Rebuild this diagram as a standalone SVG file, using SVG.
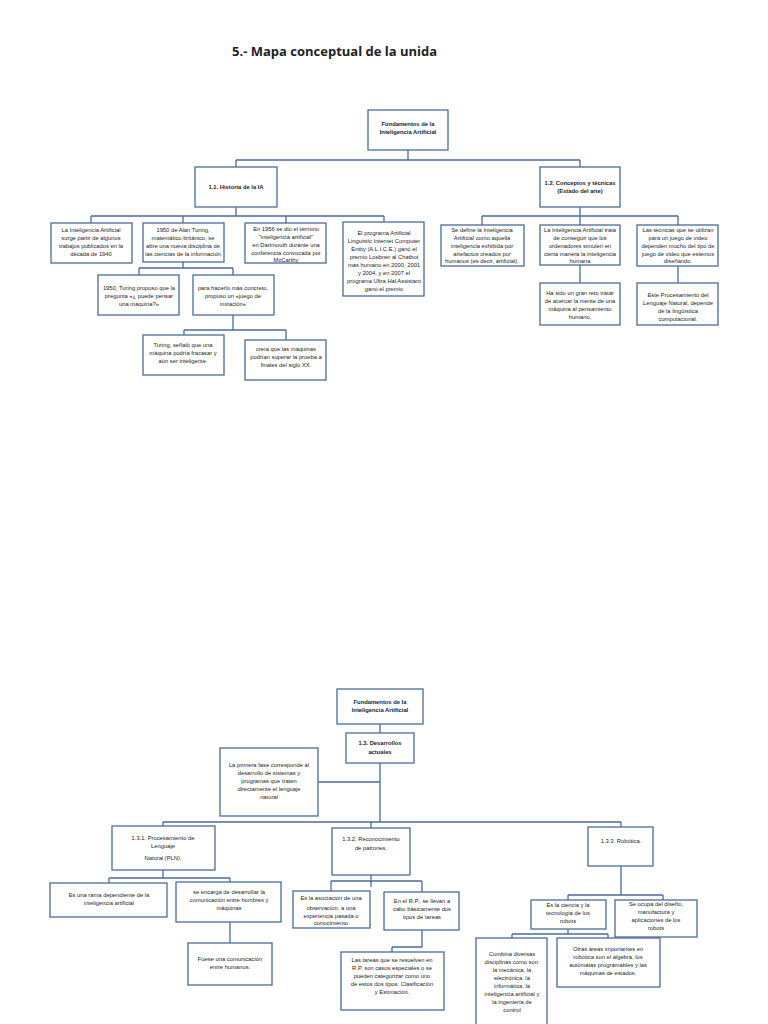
<svg xmlns="http://www.w3.org/2000/svg" width="768" height="1024" viewBox="0 0 768 1024">
<style>
rect{fill:#fff;stroke:#4a6b9a;stroke-width:1.3}
.c path{fill:none;stroke:#4a6b9a;stroke-width:1.3}
text{font-family:"Liberation Sans",Arial,sans-serif;font-size:5.8px;fill:#222;text-anchor:middle}
.b{font-weight:bold}
.t{font-size:13px;font-weight:bold;text-anchor:start;font-family:"Open Sans","Liberation Sans",sans-serif}
</style>
<rect width="768" height="1024" style="stroke:none"/>
<text class="t" x="232" y="56">5.-  Mapa conceptual  de  la unida</text>
<g class="c">
<path d="M408 150V160M236 160H580M236 160V167M580 160V167"/>
<path d="M236 207V216M91 216H384M91 216V223M183 216V223M286 216V223M384 216V222"/>
<path d="M183 262V268M139 268H233M139 268V275M233 268V275"/>
<path d="M233 315V330M184 330H286M184 330V335M286 330V340"/>
<path d="M580 207V216M482 216H678M482 216V225M580 216V225M678 216V225"/>
<path d="M580 265V283M678 266V283"/>
<path d="M380 724V733M380 763V822M318 782H380M163 822H621M163 822V826M371 822V828M621 822V827"/>
<path d="M163 870V878M109 878H230M109 878V883M230 878V882M230 922V943"/>
<path d="M371 875V887M331 881H422M331 881V891M422 881V892M422 930V947M392 947H422M392 947V952"/>
<path d="M621 866V895M568 895H663M568 895V900M663 895V900M568 929V934M512 934H608M512 934V938M608 934V938"/>
</g>
<g id="root"><rect x="368" y="110" width="80" height="40"/><text class="b" x="408" y="126">Fundamentos de la</text><text class="b" x="408" y="134">Inteligencia Artificial</text></g>
<g id="h11"><rect x="195" y="167" width="82" height="40"/><text class="b" x="236" y="189">1.1. Historia de la IA</text></g>
<g id="h12"><rect x="540" y="167" width="80" height="40"/><text class="b" x="580" y="185">1.2. Conceptos y técnicas</text><text class="b" x="580" y="193">(Estado del arte)</text></g>
<g id="a"><rect x="51" y="223" width="81" height="40"/><text x="91" y="232">La Inteligencia Artificial</text><text x="91" y="240">surge partir de algunos</text><text x="91" y="248">trabajos publicados en la</text><text x="91" y="256">década de 1940</text></g>
<g id="b"><rect x="143" y="223" width="81" height="39"/><text x="183" y="232">1950 de Alan Turing,</text><text x="183" y="240">matemático británico, se</text><text x="183" y="248">abre una nueva disciplina de</text><text x="183" y="256">las ciencias de la información</text></g>
<g id="c"><rect x="245" y="223" width="81" height="40"/><text x="286" y="231">En 1956 se dio el término</text><text x="286" y="239">"inteligencia artificial"</text><text x="286" y="247">en Dartmouth durante una</text><text x="286" y="255">conferencia convocada por</text><text x="286" y="263" dy="-1">McCarthy</text></g>
<g id="d"><rect x="343" y="222" width="81" height="74"/><text x="384" y="235">El programa Artificial</text><text x="384" y="243">Linguistic Internet Computer</text><text x="384" y="251">Entity (A.L.I.C.E.) ganó el</text><text x="384" y="259">premio Loebner al Chatbot</text><text x="384" y="267">mas humano en 2000, 2001</text><text x="384" y="275">y 2004, y en 2007 el</text><text x="384" y="283">programa Ultra Hal Assistant</text><text x="384" y="291">ganó el premio</text></g>
<g id="e"><rect x="98" y="275" width="81" height="40"/><text x="139" y="290">1950, Turing propuso que la</text><text x="139" y="298">pregunta «¿ puede pensar</text><text x="139" y="306">una máquina?»</text></g>
<g id="f"><rect x="193" y="275" width="81" height="40"/><text x="233" y="290">para hacerlo más concreto,</text><text x="233" y="298">propuso un «juego de</text><text x="233" y="306">imitación»</text></g>
<g id="g"><rect x="143" y="335" width="81" height="40"/><text x="183" y="347">Turing, señaló que una</text><text x="183" y="355">máquina podría fracasar y</text><text x="183" y="363">aún ser inteligente.</text></g>
<g id="h"><rect x="245" y="340" width="81" height="40"/><text x="286" y="351">creía que las máquinas</text><text x="286" y="359">podrían superar la prueba a</text><text x="286" y="367">finales del siglo XX.</text></g>
<g id="i"><rect x="441" y="225" width="83" height="41"/><text x="482" y="232">Se define la Inteligencia</text><text x="482" y="240">Artificial como aquella</text><text x="482" y="248">inteligencia exhibida por</text><text x="482" y="256">artefactos creados por</text><text x="482" y="264" dy="-1">humanos (es decir, artificial).</text></g>
<g id="j"><rect x="540" y="225" width="80" height="40"/><text x="580" y="232">La Inteligencia Artificial trata</text><text x="580" y="240">de conseguir que los</text><text x="580" y="248">ordenadores simulen en</text><text x="580" y="256">cierta manera la inteligencia</text><text x="580" y="264" dy="-1">humana</text></g>
<g id="k"><rect x="637" y="225" width="81" height="41"/><text x="678" y="232">Las técnicas que se utilizan</text><text x="678" y="240">para un juego de video</text><text x="678" y="248">dependen mucho del tipo de</text><text x="678" y="256">juego de video que estemos</text><text x="678" y="264" dy="-1">diseñando.</text></g>
<g id="l"><rect x="540" y="283" width="80" height="42"/><text x="580" y="295">Ha sido un gran reto tratar</text><text x="580" y="303">de acercar la mente de una</text><text x="580" y="311">máquina al pensamiento</text><text x="580" y="319">humano,</text></g>
<g id="m"><rect x="637" y="283" width="81" height="42"/><text x="678" y="297">Este Procesamiento del</text><text x="678" y="305">Lenguaje Natural, depende</text><text x="678" y="313">de la lingüística</text><text x="678" y="321">computacional.</text></g>
<g id="root2"><rect x="337" y="689" width="86" height="35"/><text class="b" x="380" y="704">Fundamentos de la</text><text class="b" x="380" y="712">Inteligencia Artificial</text></g>
<g id="h13"><rect x="346" y="733" width="68" height="30"/><text class="b" x="380" y="745">1.3. Desarrollos</text><text class="b" x="380" y="754">actuales</text></g>
<g id="n"><rect x="220" y="748" width="98" height="68"/><text x="269" y="767">La primera fase corresponde al</text><text x="269" y="775">desarrollo de sistemas y</text><text x="269" y="783">programas que traten</text><text x="269" y="791">directamente el lenguaje</text><text x="269" y="799">natural</text></g>
<g id="h131"><rect x="112" y="826" width="103" height="44"/><text x="163" y="840">1.3.1. Procesamiento de</text><text x="163" y="848">Lenguaje</text><text x="163" y="860">Natural (PLN).</text></g>
<g id="h132"><rect x="332" y="828" width="78" height="47"/><text x="371" y="841">1.3.2. Reconocimiento</text><text x="371" y="850">de patrones.</text></g>
<g id="h133"><rect x="588" y="827" width="65" height="39"/><text x="621" y="843">1.3.3. Robótica.</text></g>
<g id="o"><rect x="50" y="883" width="117" height="34"/><text x="109" y="897">Es una rama dependiente de la</text><text x="109" y="905">inteligencia artificial</text></g>
<g id="p"><rect x="176" y="882" width="105" height="40"/><text x="229" y="894">se encarga de desarrollar la</text><text x="229" y="902">comunicación entre hombres y</text><text x="229" y="910">máquinas</text></g>
<g id="q"><rect x="188" y="943" width="84" height="42"/><text x="230" y="961">Fuese una comunicación</text><text x="230" y="969">entre humanos.</text></g>
<g id="r"><rect x="293" y="891" width="77" height="37"/><text x="331" y="894" dy="6">Es la asociación de una</text><text x="331" y="910">observación, a una</text><text x="331" y="918">experiencia pasada o</text><text x="331" y="926" dy="-1">conocimiento</text></g>
<g id="s"><rect x="384" y="892" width="75" height="38"/><text x="422" y="903">En el R.P., se llevan a</text><text x="422" y="911">cabo básicamente dos</text><text x="422" y="919">tipos de tareas</text></g>
<g id="t"><rect x="341" y="952" width="103" height="58"/><text x="392" y="962">Las tareas que se resuelven en</text><text x="392" y="970">R.P. son casos especiales o se</text><text x="392" y="978">pueden categorizar como uno</text><text x="392" y="986">de estos dos tipos: Clasificación</text><text x="392" y="994">y Estimación.</text></g>
<g id="u"><rect x="531" y="900" width="75" height="29"/><text x="568" y="907">Es la ciencia y la</text><text x="568" y="915">tecnología de los</text><text x="568" y="923">robots</text></g>
<g id="v"><rect x="615" y="900" width="82" height="37"/><text x="656" y="906">Se ocupa del diseño,</text><text x="656" y="914">manufactura y</text><text x="656" y="922">aplicaciones de los</text><text x="656" y="930">robots</text></g>
<g id="w"><rect x="476" y="938" width="71" height="90"/><text x="512" y="956">Combina diversas</text><text x="512" y="964">disciplinas como son:</text><text x="512" y="972">la mecánica, la</text><text x="512" y="980">electrónica, la</text><text x="512" y="988">informática, la</text><text x="512" y="996">inteligencia artificial y</text><text x="512" y="1004">la ingeniería de</text><text x="512" y="1012">control</text></g>
<g id="x"><rect x="557" y="938" width="103" height="49"/><text x="608" y="951">Otras áreas importantes en</text><text x="608" y="959">robótica son el álgebra, los</text><text x="608" y="967">autómatas programables y las</text><text x="608" y="975">máquinas de estados.</text></g>
</svg>
